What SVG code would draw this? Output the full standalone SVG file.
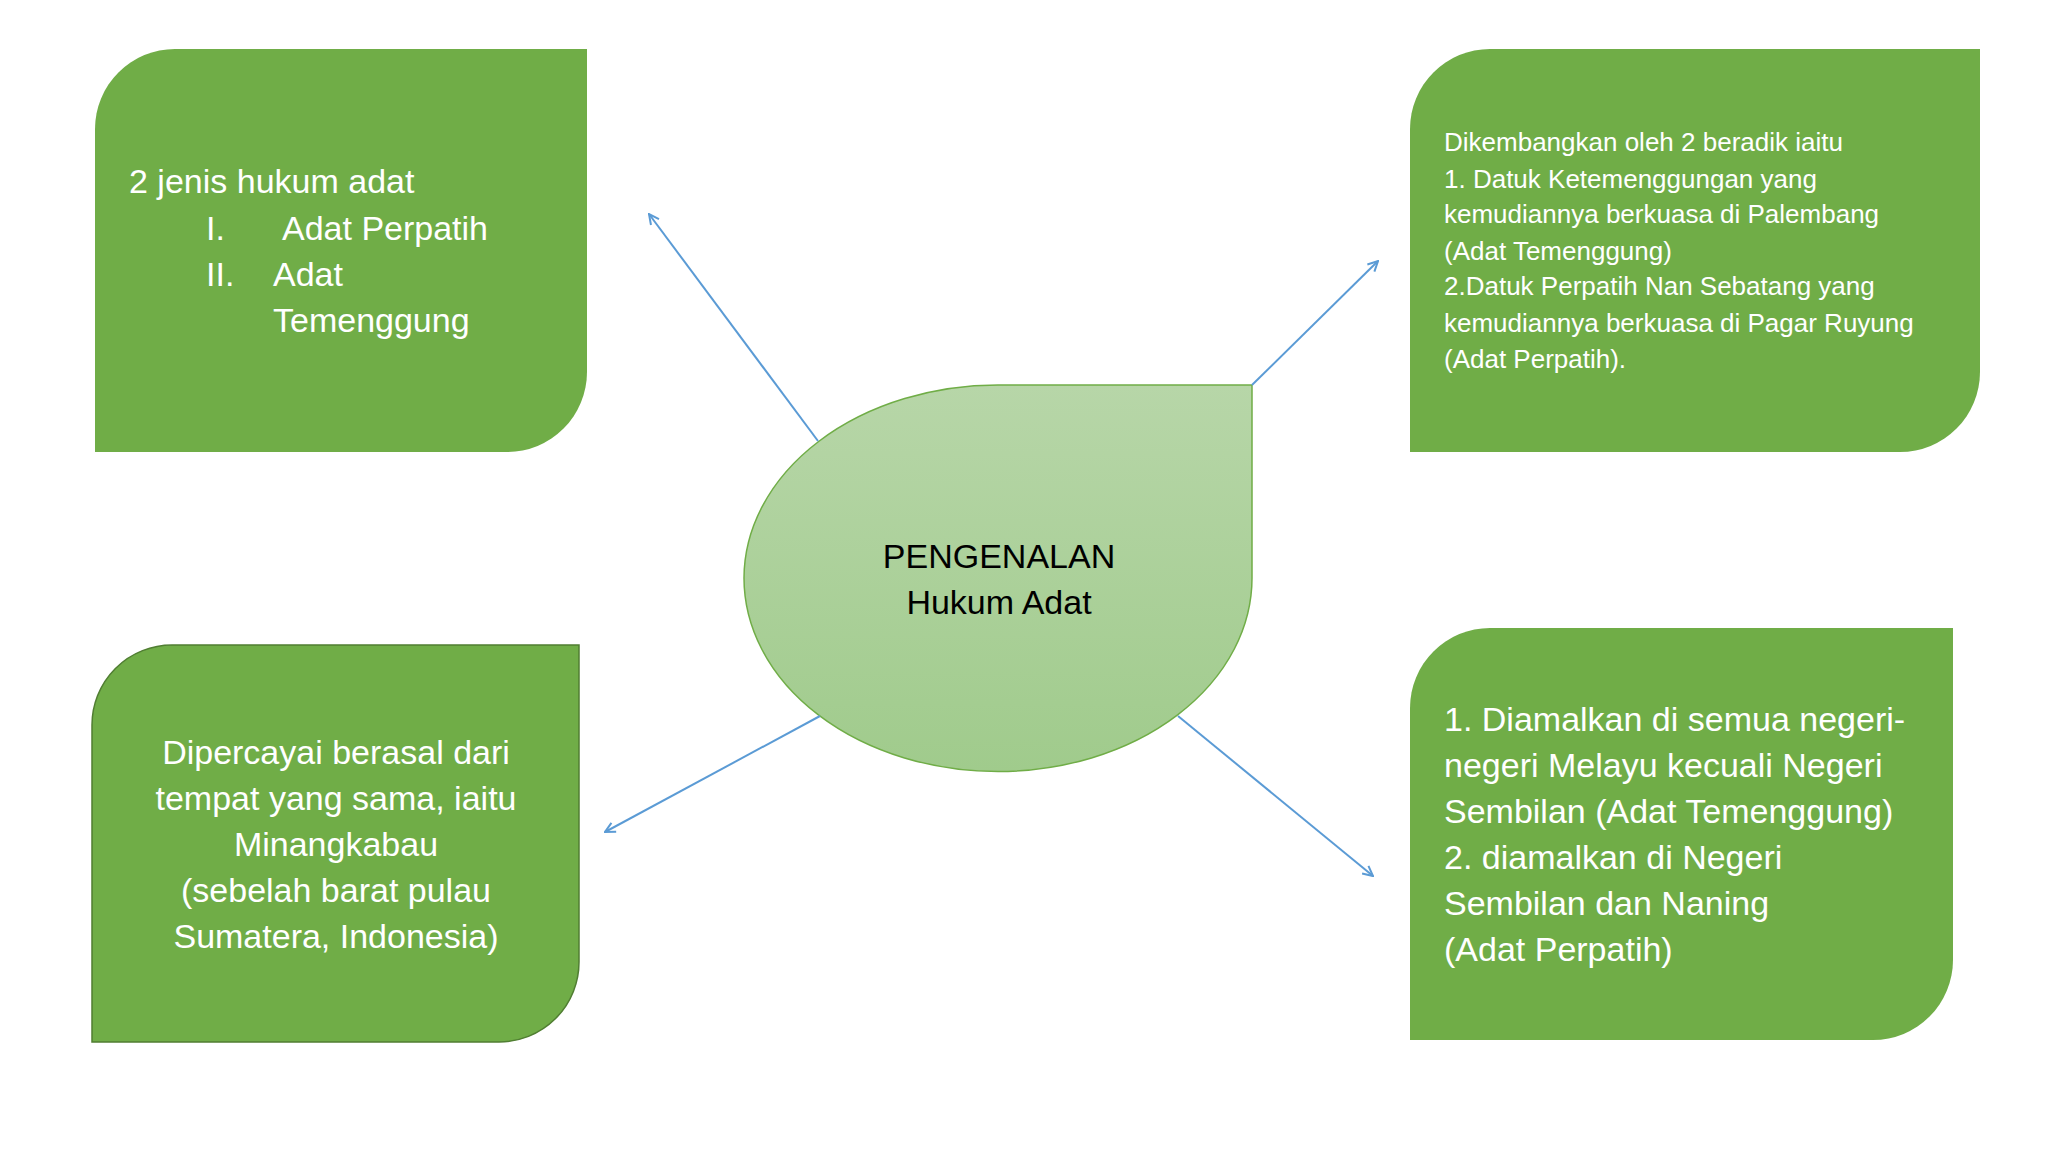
<svg xmlns="http://www.w3.org/2000/svg" width="2048" height="1152" viewBox="0 0 2048 1152">
<style>
.box{fill:#70ad47}
.t{font-family:"Liberation Sans","Open Sans",sans-serif;fill:#fff;font-size:34px}
.s{font-size:26px}
.c{font-family:"Liberation Sans","Open Sans",sans-serif;fill:#000;font-size:34px;text-anchor:middle}
.con{stroke:#5b9bd5;stroke-width:2;fill:none;marker-end:url(#a)}
</style>
<defs>
<marker id="a" viewBox="0 0 12 12" refX="11" refY="6" markerWidth="12" markerHeight="12" orient="auto" markerUnits="userSpaceOnUse"><path d="M1 1 L11 6 L1 11" fill="none" stroke="#5b9bd5" stroke-width="2"/></marker>
<linearGradient id="g" x1="0" y1="0" x2="0" y2="1"><stop offset="0" stop-color="#b7d6a8"/><stop offset="1" stop-color="#a0cb8c"/></linearGradient>
</defs>
<rect width="2048" height="1152" fill="#fff"/>
<g id="n1"><path class="box" d="M175 49 H587 V372 A80 80 0 0 1 507 452 H95 V129 A80 80 0 0 1 175 49 Z"/>
<text class="t" x="129" y="193">2 jenis hukum adat</text>
<text class="t" x="206" y="240">I.</text><text class="t" x="282" y="240">Adat Perpatih</text>
<text class="t" x="206" y="286">II.</text><text class="t" x="273" y="286">Adat</text>
<text class="t" x="273" y="332">Temenggung</text></g>
<g id="n2"><path class="box" d="M1490 49 H1980 V372 A80 80 0 0 1 1900 452 H1410 V129 A80 80 0 0 1 1490 49 Z"/>
<text class="t s" x="1444" y="151">Dikembangkan oleh 2 beradik iaitu</text>
<text class="t s" x="1444" y="188">1. Datuk Ketemenggungan yang</text>
<text class="t s" x="1444" y="223">kemudiannya berkuasa di Palembang</text>
<text class="t s" x="1444" y="260">(Adat Temenggung)</text>
<text class="t s" x="1444" y="295">2.Datuk Perpatih Nan Sebatang yang</text>
<text class="t s" x="1444" y="332">kemudiannya berkuasa di Pagar Ruyung</text>
<text class="t s" x="1444" y="368">(Adat Perpatih).</text></g>
<g id="n3"><path class="box" stroke="#507e32" stroke-width="1.5" d="M172 645 H579 V962 A80 80 0 0 1 499 1042 H92 V725 A80 80 0 0 1 172 645 Z"/>
<g text-anchor="middle"><text class="t" x="336" y="764">Dipercayai berasal dari</text>
<text class="t" x="336" y="810">tempat yang sama, iaitu</text>
<text class="t" x="336" y="856">Minangkabau</text>
<text class="t" x="336" y="902">(sebelah barat pulau</text>
<text class="t" x="336" y="948">Sumatera, Indonesia)</text></g></g>
<g id="n4"><path class="box" d="M1490 628 H1953 V960 A80 80 0 0 1 1873 1040 H1410 V708 A80 80 0 0 1 1490 628 Z"/>
<text class="t" x="1444" y="731">1. Diamalkan di semua negeri-</text>
<text class="t" x="1444" y="777">negeri Melayu kecuali Negeri</text>
<text class="t" x="1444" y="823">Sembilan (Adat Temenggung)</text>
<text class="t" x="1444" y="869">2. diamalkan di Negeri</text>
<text class="t" x="1444" y="915">Sembilan dan Naning</text>
<text class="t" x="1444" y="961">(Adat Perpatih)</text></g>
<g id="center"><path d="M998 385 H1252 V578 A254 193.5 0 0 1 998 771.5 A254 193.5 0 0 1 744 578 A254 193.5 0 0 1 998 385 Z" fill="url(#g)" stroke="#70ad47" stroke-width="1.5"/>
<text class="c" x="999" y="568">PENGENALAN</text>
<text class="c" x="999" y="614">Hukum Adat</text></g>
<g id="connectors">
<line class="con" x1="818" y1="441" x2="649" y2="214"/>
<line class="con" x1="1252" y1="385" x2="1378" y2="261"/>
<line class="con" x1="820" y1="716" x2="605" y2="832"/>
<line class="con" x1="1178" y1="716" x2="1373" y2="876"/>
</g>
</svg>
